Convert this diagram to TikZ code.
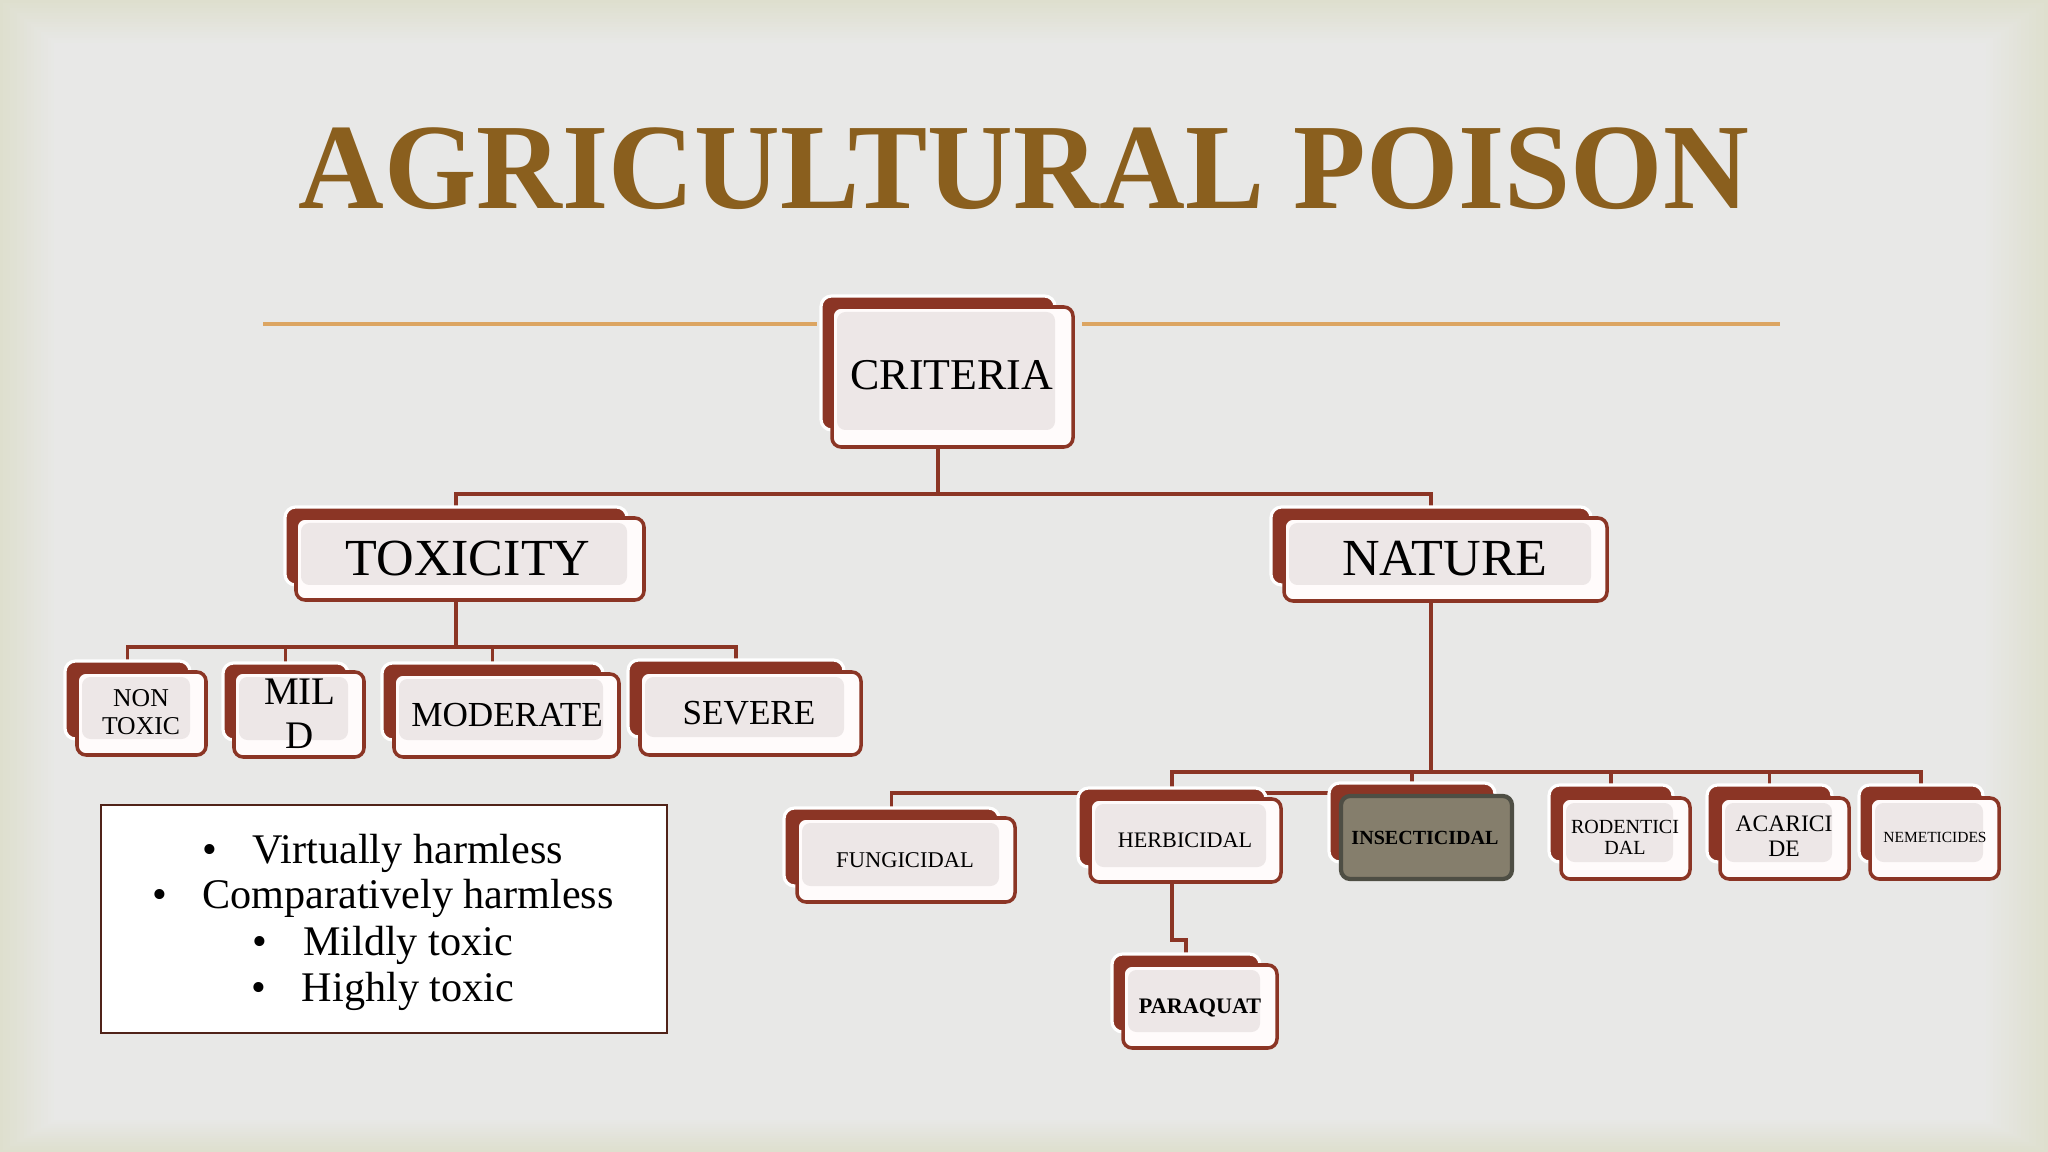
\documentclass[tikz,border=0pt]{standalone}
\usepackage{fontspec}
\usepackage{graphicx}
\setmainfont{Liberation Serif}
\usetikzlibrary{fit}
\definecolor{dred}{RGB}{139,53,37}
\definecolor{goldline}{RGB}{220,165,98}
\definecolor{titlecol}{RGB}{138,95,30}
\definecolor{ovl}{RGB}{237,231,231}
\definecolor{frontfill}{RGB}{255,251,251}
\definecolor{insfill}{RGB}{133,126,108}
\definecolor{insdraw}{RGB}{78,78,68}
\definecolor{bgin}{RGB}{232,232,231}
\definecolor{bgout}{RGB}{222,223,206}
\definecolor{listdraw}{RGB}{80,35,25}
\newcommand{\fs}[1]{\fontsize{#1pt}{#1pt}\selectfont}
\pgfdeclarelayer{bglayer}
\pgfdeclarelayer{connlayer}
\pgfsetlayers{bglayer,connlayer,main}
\tikzset{
  backbox/.style={shape=rectangle, inner sep=0pt, outer sep=0pt, fill=dred, draw=white, line width=0.9pt, rounded corners=3pt},
  frontbox/.style={shape=rectangle, inner sep=0pt, outer sep=0pt, fill=frontfill, draw=dred, line width=1pt, rounded corners=2.6pt},
  insbox/.style={shape=rectangle, inner sep=0pt, outer sep=0pt, fill=insfill, draw=insdraw, line width=1.2pt, rounded corners=2.6pt},
  overlapfill/.style={fill=ovl, rounded corners=2.4pt},
  conn/.style={draw=dred, line width=0.9pt},
  lbl/.style={inner sep=0pt, anchor=base, text=black},
  listbox/.style={shape=rectangle, inner sep=0pt, fill=white, draw=listdraw, line width=0.8pt},
  gline/.style={draw=goldline, line width=0.9pt}
}
% name, back x1,y1,x2,y2, front x1,y1,x2,y2
\newcommand{\mkbox}[9]{%
  \node[backbox, fit={(#2,#3)(#4,#5)}] (#1-b) {};
  \node[frontbox, fit={(#6,#7)(#8,#9)}] (#1) {};
  \fill[overlapfill] (#6+5,#7+5) rectangle (#4,#5);
}
\begin{document}
\begin{tikzpicture}[x=0.01cm, y=-0.01cm]
\useasboundingbox (0,0) rectangle (2048,1152);
\begin{pgfonlayer}{bglayer}
  \foreach \i in {0,...,16}{
    \pgfmathsetmacro{\pc}{100*\i/16}
    \fill[bgin!\pc!bgout] (3.4*\i,2.7*\i) rectangle (2048-3.9*\i,1152-2*\i);
  }
  \draw[gline] (263,324) -- (817,324);
  \draw[gline] (1082,324) -- (1780,324);
\end{pgfonlayer}

% title
\node[anchor=base, inner sep=0pt, text=titlecol, font={\bfseries\fs{34.7}}] (title) at (1024,209) {\scalebox{0.973}[1]{AGRICULTURAL POISON}};

% boxes
\mkbox{crit}{821}{296}{1055}{430}{832}{307}{1073}{447}
\mkbox{tox}{285}{507}{627}{585}{296}{518}{644}{600}
\mkbox{nat}{1271}{507}{1591}{585}{1284}{518}{1607}{601}
\mkbox{non}{65}{661}{190}{739}{77}{672}{206}{755}
\mkbox{mild}{223}{663}{348}{740}{234}{672}{364}{757}
\mkbox{mod}{382}{663}{603}{740}{394}{674}{619}{757}
\mkbox{sev}{628}{660}{844}{737}{640}{672}{861}{755}
\mkbox{fung}{784}{808}{999}{886}{797}{818}{1015}{902}
\mkbox{herb}{1078}{788}{1266}{867}{1090}{799}{1281}{882}
\node[backbox, fit={(1329,783)(1495,862)}] (ins-b) {};
\node[insbox, fit={(1341,796)(1512,879)}] (ins) {};
\mkbox{rod}{1549}{785}{1673}{862}{1561}{798}{1690}{879}
\mkbox{aca}{1707}{785}{1832}{862}{1720}{798}{1849}{879}
\mkbox{nem}{1859}{785}{1983}{862}{1870}{798}{1999}{879}
\mkbox{para}{1112}{954}{1260}{1032}{1123}{965}{1277}{1048}

% labels
\node[lbl, font={\fs{12.5}}] (crit-t) at (952,390) {CRITERIA};
\node[lbl, font={\fs{14.8}}] (tox-t) at (468,575) {TOXICITY};
\node[lbl, font={\fs{14.8}}] (nat-t) at (1445,576) {NATURE};
\node[lbl, font={\fs{7.3}}] (non-t1) at (141,706) {NON};
\node[lbl, font={\fs{7.3}}] (non-t2) at (141,734) {TOXIC};
\node[lbl, font={\fs{11.1}}] (mild-t1) at (300,705) {MIL};
\node[lbl, font={\fs{11.1}}] (mild-t2) at (300,748) {D};
\node[lbl, font={\fs{10}}] (mod-t) at (507,726) {MODERATE};
\node[lbl, font={\fs{10}}] (sev-t) at (749,725) {SEVERE};
\node[lbl, font={\fs{6.4}}] (fung-t) at (905,867) {FUNGICIDAL};
\node[lbl, font={\fs{6.3}}] (herb-t) at (1185,847) {HERBICIDAL};
\node[lbl, font={\bfseries\fs{5.7}}] (ins-t) at (1425,844) {INSECTICIDAL};
\node[lbl, font={\fs{5.7}}] (rod-t1) at (1625,833) {RODENTICI};
\node[lbl, font={\fs{5.7}}] (rod-t2) at (1625,854) {DAL};
\node[lbl, font={\fs{6.7}}] (aca-t1) at (1784,831) {ACARICI};
\node[lbl, font={\fs{6.7}}] (aca-t2) at (1784,856) {DE};
\node[lbl, font={\fs{4.4}}] (nem-t) at (1935,842) {NEMETICIDES};
\node[lbl, font={\bfseries\fs{6.3}}] (para-t) at (1200,1013) {PARAQUAT};

% list box
\node[listbox, fit={(101,805)(667,1033)}] (list) {};
\node[lbl, font={\fs{12}}] (l1) at (408,863) {Virtually harmless};
\node[lbl, font={\fs{12}}] (l2) at (408,908) {Comparatively harmless};
\node[lbl, font={\fs{12}}] (l3) at (408,955) {Mildly toxic};
\node[lbl, font={\fs{12}}] (l4) at (408,1001) {Highly toxic};
\node[lbl, font={\fs{12}}] (b1) at ([xshift=-0.42cm]l1.base west) {•};
\node[lbl, font={\fs{12}}] (b2) at ([xshift=-0.42cm]l2.base west) {•};
\node[lbl, font={\fs{12}}] (b3) at ([xshift=-0.42cm]l3.base west) {•};
\node[lbl, font={\fs{12}}] (b4) at ([xshift=-0.42cm]l4.base west) {•};

% connectors
\coordinate (j1) at (0,494);
\coordinate (j2) at (0,647);
\coordinate (j3) at (0,772);
\coordinate (j4) at (0,793);
\coordinate (j5) at (0,940);
\begin{pgfonlayer}{connlayer}
  \draw[conn] (crit-b.south) -- (crit-b.south |- j1);
  \draw[conn] (tox-b.north) |- (nat-b.north |- j1) -- (nat-b.north);
  \draw[conn] (tox-b.south) -- (tox-b.south |- j2);
  \draw[conn] (non-b.north) |- (sev-b.north |- j2) -- (sev-b.north);
  \draw[conn] (mild-b.north) -- (mild-b.north |- j2);
  \draw[conn] (mod-b.north) -- (mod-b.north |- j2);
  \draw[conn] (nat-b.south) -- (nat-b.south |- j3);
  \draw[conn] (herb-b.north) |- (nem-b.north |- j3) -- (nem-b.north);
  \draw[conn] (ins-b.north) -- (ins-b.north |- j3);
  \draw[conn] (rod-b.north) -- (rod-b.north |- j3);
  \draw[conn] (aca-b.north) -- (aca-b.north |- j3);
  \draw[conn] (fung-b.north) |- (ins-b.west |- j4);
  \draw[conn] (herb-b.south) -- (herb-b.south |- j5) -| (para-b.north);
\end{pgfonlayer}
\end{tikzpicture}
\end{document}
